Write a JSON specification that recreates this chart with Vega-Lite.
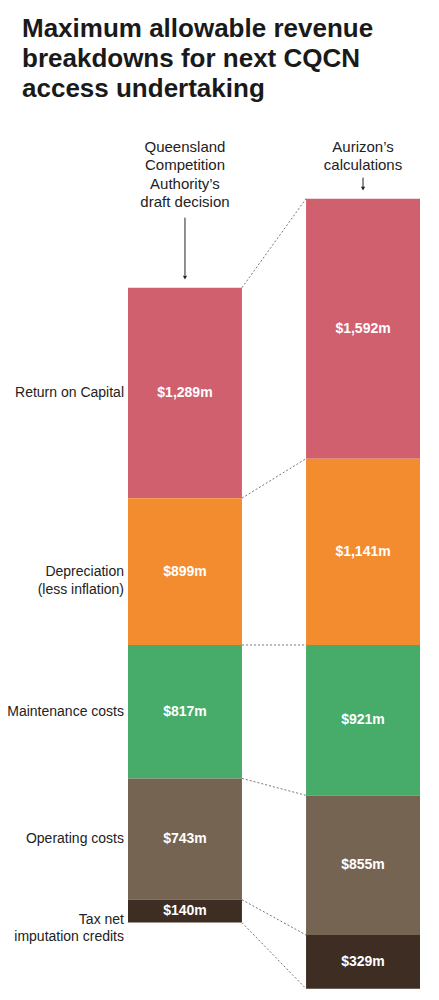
{
  "$schema": "https://vega.github.io/schema/vega-lite/v6.json",
  "width": 439,
  "height": 890,
  "autosize": "none",
  "padding": {"top": 110, "left": 0, "right": 0, "bottom": 0},
  "background": "white",
  "title": {
    "text": ["Maximum allowable revenue", "breakdowns for next CQCN", "access undertaking"],
    "anchor": "start",
    "frame": "group",
    "dx": 22,
    "offset": -18,
    "font": "Liberation Sans",
    "fontSize": 26,
    "fontWeight": "bold",
    "lineHeight": 30,
    "color": "#1a1a1a",
    "baseline": "bottom"
  },
  "config": {
    "view": {"stroke": null},
    "font": "Liberation Sans",
    "axis": {"disable": true}
  },
  "datasets": {
    "segments": [
      {"bar": "QCA", "component": "Return on Capital", "value": 1289},
      {"bar": "QCA", "component": "Depreciation (less inflation)", "value": 899},
      {"bar": "QCA", "component": "Maintenance costs", "value": 817},
      {"bar": "QCA", "component": "Operating costs", "value": 743},
      {"bar": "QCA", "component": "Tax net imputation credits", "value": 140},
      {"bar": "Aurizon", "component": "Return on Capital", "value": 1592},
      {"bar": "Aurizon", "component": "Depreciation (less inflation)", "value": 1141},
      {"bar": "Aurizon", "component": "Maintenance costs", "value": 921},
      {"bar": "Aurizon", "component": "Operating costs", "value": 855},
      {"bar": "Aurizon", "component": "Tax net imputation credits", "value": 329}
    ],
    "headers": [
      {"bar": "QCA", "header": ["Queensland", "Competition", "Authority’s", "draft decision"]},
      {"bar": "Aurizon", "header": ["Aurizon’s", "calculations"]}
    ]
  },
  "layer": [
    {
      "data": {"name": "segments"},
      "transform": [
        {"calculate": "indexof(['Depreciation (less inflation)', 'Return on Capital', 'Maintenance costs', 'Operating costs', 'Tax net imputation credits'], datum.component)", "as": "order"},
        {"calculate": "datum.order < 2 ? datum.value : -datum.value", "as": "signed"},
        {"stack": "signed", "groupby": ["bar"], "sort": [{"field": "order", "order": "ascending"}], "as": ["y0", "y1"]},
        {"calculate": "(datum.y0 + datum.y1) / 2", "as": "mid"},
        {"calculate": "'$' + format(datum.value, ',') + 'm'", "as": "amount"}
      ],
      "layer": [
        {
          "mark": {"type": "bar"},
          "encoding": {
            "x": {
              "field": "bar",
              "type": "nominal",
              "scale": {"domain": ["QCA", "Aurizon"], "range": [128, 420], "paddingInner": 0.36, "paddingOuter": 0}
            },
            "y": {
              "field": "y0",
              "type": "quantitative",
              "scale": {"domain": [-2174, 3276], "nice": false, "zero": false}
            },
            "y2": {"field": "y1"},
            "color": {
              "field": "component",
              "type": "nominal",
              "scale": {
                "domain": ["Return on Capital", "Depreciation (less inflation)", "Maintenance costs", "Operating costs", "Tax net imputation credits"],
                "range": ["#d1606f", "#f28c2f", "#47ab69", "#766452", "#3e2d22"]
              },
              "legend": null
            }
          }
        },
        {
          "mark": {"type": "text", "color": "white", "fontWeight": "bold", "fontSize": 14, "baseline": "middle"},
          "encoding": {
            "x": {"field": "bar", "type": "nominal"},
            "y": {"field": "mid", "type": "quantitative"},
            "text": {"field": "amount"}
          }
        },
        {
          "transform": [
            {"filter": "datum.bar == 'QCA' && datum.component != 'Tax net imputation credits'"},
            {"calculate": "datum.component == 'Depreciation (less inflation)' ? ['Depreciation', '(less inflation)'] : datum.component", "as": "lines"}
          ],
          "mark": {"type": "text", "align": "right", "baseline": "middle", "dx": -4, "fontSize": 14, "lineHeight": 18, "color": "#222"},
          "encoding": {
            "x": {"field": "bar", "type": "nominal", "bandPosition": 0},
            "y": {"field": "mid", "type": "quantitative"},
            "text": {"field": "lines"}
          }
        },
        {
          "transform": [
            {"filter": "datum.bar == 'QCA' && datum.component == 'Tax net imputation credits'"},
            {"calculate": "['Tax net', 'imputation credits']", "as": "lines"}
          ],
          "mark": {"type": "text", "align": "right", "baseline": "middle", "dx": -4, "dy": 9, "fontSize": 14, "lineHeight": 17, "color": "#222"},
          "encoding": {
            "x": {"field": "bar", "type": "nominal", "bandPosition": 0},
            "y": {"field": "mid", "type": "quantitative"},
            "text": {"field": "lines"}
          }
        },
        {
          "transform": [
            {"pivot": "bar", "value": "y1", "groupby": ["component"]}
          ],
          "mark": {"type": "rule", "color": "#777", "strokeWidth": 1, "strokeDash": [2, 2]},
          "encoding": {
            "x": {"datum": "QCA", "bandPosition": 1},
            "x2": {"datum": "Aurizon", "bandPosition": 0},
            "y": {"field": "QCA", "type": "quantitative"},
            "y2": {"field": "Aurizon"}
          }
        },
        {
          "transform": [
            {"filter": "datum.component == 'Maintenance costs'"},
            {"pivot": "bar", "value": "y0", "groupby": ["component"]}
          ],
          "mark": {"type": "rule", "color": "#777", "strokeWidth": 1, "strokeDash": [2, 2]},
          "encoding": {
            "x": {"datum": "QCA", "bandPosition": 1},
            "x2": {"datum": "Aurizon", "bandPosition": 0},
            "y": {"field": "QCA", "type": "quantitative"},
            "y2": {"field": "Aurizon"}
          }
        },
        {
          "transform": [
            {"filter": "datum.bar == 'QCA' && datum.component == 'Return on Capital'"}
          ],
          "mark": {"type": "rule", "color": "#222", "strokeWidth": 1, "yOffset": -70, "y2Offset": -12},
          "encoding": {
            "x": {"field": "bar", "type": "nominal"},
            "y": {"field": "y1", "type": "quantitative"},
            "y2": {"field": "y1"}
          }
        },
        {
          "transform": [
            {"filter": "datum.bar == 'Aurizon' && datum.component == 'Return on Capital'"}
          ],
          "mark": {"type": "rule", "color": "#222", "strokeWidth": 1, "yOffset": -21, "y2Offset": -10},
          "encoding": {
            "x": {"field": "bar", "type": "nominal"},
            "y": {"field": "y1", "type": "quantitative"},
            "y2": {"field": "y1"}
          }
        },
        {
          "transform": [
            {"filter": "datum.component == 'Return on Capital'"}
          ],
          "mark": {"type": "point", "shape": "triangle-down", "filled": true, "size": 18, "opacity": 1, "color": "#222"},
          "encoding": {
            "x": {"field": "bar", "type": "nominal"},
            "y": {"field": "y1", "type": "quantitative"},
            "yOffset": {"value": -10}
          }
        }
      ]
    },
    {
      "data": {"name": "headers"},
      "mark": {"type": "text", "align": "center", "baseline": "top", "fontSize": 15, "lineHeight": 18.5, "color": "#222"},
      "encoding": {
        "x": {"field": "bar", "type": "nominal"},
        "y": {"datum": 3093},
        "text": {"field": "header"}
      }
    }
  ]
}
